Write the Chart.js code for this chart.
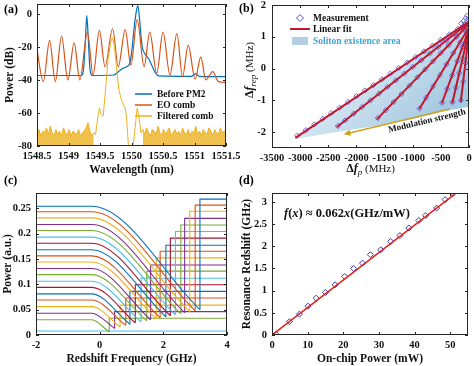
<!DOCTYPE html>
<html>
<head>
<meta charset="utf-8">
<script src="https://cdn.jsdelivr.net/npm/chart.js@4.4.1/dist/chart.umd.min.js"></script>
<style>
  body { margin: 0; background: #fff; }
  #fig { position: relative; width: 474px; height: 366px; overflow: hidden; }
  canvas { position: absolute; }
  .tag { position: absolute; font: bold 12px "Liberation Serif", serif; color: #000; }
</style>
</head>
<body>
<div id="fig">
  <canvas id="ca" width="245" height="183" style="left:0;top:0"></canvas>
  <canvas id="cb" width="237" height="183" style="left:237px;top:0"></canvas>
  <canvas id="cc" width="237" height="183" style="left:0;top:183px"></canvas>
  <canvas id="cd" width="237" height="183" style="left:237px;top:183px"></canvas>
  <div class="tag" style="left:4px;top:2px">(a)</div>
  <div class="tag" style="left:239px;top:1px">(b)</div>
  <div class="tag" style="left:4px;top:173px">(c)</div>
  <div class="tag" style="left:239px;top:173px">(d)</div>
</div>
<script>
// ---- (a) spectra ----
var aNames = ['Before PM2', 'EO comb', 'Filtered comb'];
var aTickX = [1548.5, 1549, 1549.5, 1550, 1550.5, 1551, 1551.5];
var aTickY = [-80, -60, -40, -20, 0];

var blueX = [1548.50, 1549.20, 1549.24, 1549.27, 1549.29, 1549.31, 1549.34, 1549.38, 1549.72, 1549.79, 1549.86, 1549.92, 1549.97, 1550.00, 1550.04, 1550.07, 1550.10, 1550.13, 1550.15, 1550.17, 1550.21, 1550.27, 1550.32, 1550.37, 1550.43, 1550.95, 1551.02, 1551.08, 1551.50];
var blueY = [-37.3, -37.3, -33, -15, -1, -12, -33, -37.3, -37, -35, -33, -32, -30, -24, -9, 0, 5, -4, -13, -20, -24, -27, -31, -35, -37.5, -37.8, -36.3, -37.8, -38];

var eoX = [1548.50, 1548.60, 1548.70, 1548.79, 1548.89, 1548.99, 1549.09, 1549.18, 1549.30, 1549.39, 1549.49, 1549.58, 1549.70, 1549.79, 1549.90, 1549.99, 1550.09, 1550.20, 1550.29, 1550.40, 1550.50, 1550.61, 1550.72, 1550.81, 1550.90, 1551.01, 1551.10, 1551.18, 1551.29, 1551.38, 1551.50];
var eoY = [-22, -41, -16, -41, -13.5, -40, -17.5, -40, -11, -37, -10, -32, -9, -32, -9.5, -31, -3.5, -32, -11, -36, -11, -37, -12, -38, -19, -39.5, -26, -40, -35, -41, -41.5];

var filtLX = [1548.50, 1548.53, 1548.56, 1548.59, 1548.62, 1548.65, 1548.68, 1548.71, 1548.74, 1548.77, 1548.80, 1548.83, 1548.86, 1548.89, 1548.92, 1548.95, 1548.98, 1549.01, 1549.04, 1549.07, 1549.10, 1549.13, 1549.16, 1549.19, 1549.22, 1549.25, 1549.28, 1549.31, 1549.34, 1549.37, 1549.40];
var filtLY = [-73, -70, -74, -71, -72, -69, -73, -68, -72, -74, -70, -73, -71, -74, -69, -72, -73, -70, -74, -71, -72, -73, -70, -74, -72, -71, -69, -66, -71, -74, -72];
var filtPX = [1549.43, 1549.46, 1549.49, 1549.52, 1549.55, 1549.59, 1549.63, 1549.67, 1549.70, 1549.73, 1549.76, 1549.80, 1549.84, 1549.87, 1549.90, 1549.92, 1549.95, 1549.98, 1550.03, 1550.06, 1550.09, 1550.12, 1550.15];
var filtPY = [-73, -64, -57, -61, -62, -45, -27, -17, -14.5, -20, -32, -46, -52, -55, -57, -62, -79, -80, -79, -68, -57, -63, -72];
var filtRX = [1550.18, 1550.21, 1550.24, 1550.27, 1550.30, 1550.33, 1550.36, 1550.39, 1550.42, 1550.45, 1550.48, 1550.51, 1550.54, 1550.57, 1550.60, 1550.63, 1550.66, 1550.69, 1550.72, 1550.75, 1550.78, 1550.81, 1550.84, 1550.87, 1550.90, 1550.93, 1550.96, 1550.99, 1551.02, 1551.05, 1551.08, 1551.11, 1551.14, 1551.17, 1551.20, 1551.23, 1551.26, 1551.29, 1551.32, 1551.35, 1551.38, 1551.41, 1551.44, 1551.47, 1551.50];
var filtRY = [-70, -73, -69, -72, -74, -70, -71, -73, -68, -72, -74, -70, -73, -71, -69, -74, -72, -70, -73, -71, -74, -69, -72, -73, -70, -74, -71, -72, -68, -73, -71, -74, -70, -72, -73, -69, -71, -74, -70, -72, -73, -69, -72, -71, -74];

// ---- (b) repetition rate tuning ----
var bTickX = [-3500, -3000, -2500, -2000, -1500, -1000, -500, 0];
var bTickY = [-2, -1, 0, 1, 2];
var fitStartX = [-3086, -2347, -1638, -887, -485, -300, -148];
var fitStartY = [-2.18, -1.84, -1.60, -1.28, -1.10, -1.10, -1.05];
var fitEndY = [1.48, 1.45, 1.40, 1.30, 1.25, 1.20, 1.15];
var m1X = [-3050, -2900, -2750, -2600, -2450, -2300, -2150, -2000, -1850, -1700, -1550, -1400, -1250, -1100, -950, -800, -650, -500, -350, -200, -80];
var m1Y = [-2.11, -1.94, -1.76, -1.58, -1.40, -1.23, -1.05, -0.87, -0.69, -0.52, -0.34, -0.16, 0.02, 0.19, 0.37, 0.54, 0.72, 0.90, 1.07, 1.25, 1.40];
var m2X = [-2330, -2200, -2050, -1900, -1750, -1600, -1450, -1300, -1150, -1000, -850, -700, -550, -400, -250, -110];
var m2Y = [-1.81, -1.63, -1.42, -1.21, -1.00, -0.79, -0.58, -0.37, -0.16, 0.05, 0.26, 0.47, 0.68, 0.89, 1.10, 1.30];
var m3X = [-1620, -1480, -1340, -1200, -1060, -920, -780, -640, -500, -360, -220, -90];
var m3Y = [-1.56, -1.31, -1.05, -0.80, -0.54, -0.28, -0.03, 0.23, 0.49, 0.74, 1.00, 1.24];
var m4X = [-880, -760, -640, -520, -400, -280, -160, -50];
var m4Y = [-1.26, -0.91, -0.56, -0.21, 0.14, 0.49, 0.83, 1.15];
var m5X = [-480, -390, -300, -210, -120, -40];
var m5Y = [-1.08, -0.64, -0.21, 0.23, 0.67, 1.06];
var m6X = [-295, -235, -175, -115, -55];
var m6Y = [-1.06, -0.60, -0.14, 0.32, 0.78];
var m7X = [-145, -105, -65, -25];
var m7Y = [-1.00, -0.41, 0.18, 0.78];
var mTopX = [-140, -95, -60, -35, -15];
var mTopY = [1.42, 1.50, 1.58, 1.66, 1.55];
var areaX = [-3100, 0, 0, -150, -490, -890, -1640, -2350, -3100];
var areaY = [-2.22, 1.52, -1.20, -1.25, -1.35, -1.55, -1.80, -2.00, -2.22];
var arrowFrom = [-340, -1.27];
var arrowTo = [-2230, -2.07];

// ---- (c) transmission sweeps ----
var cTickX = [-2, 0, 2, 4];
var cTickY = [0, 0.05, 0.1, 0.15, 0.2, 0.25];
var cKnee = -0.25;
var cLevel = [0.254, 0.243, 0.231, 0.218, 0.206, 0.193, 0.181, 0.168, 0.156, 0.144, 0.131, 0.119, 0.106, 0.094, 0.081, 0.069, 0.056, 0.043, 0.030, 0.008];
var cJump = [3.15, 3.00, 2.83, 2.67, 2.55, 2.38, 2.22, 2.08, 1.90, 1.78, 1.60, 1.48, 1.30, 1.12, 0.95, 0.82, 0.64, 0.47, 0.30, null];
var cLow = [0.050, 0.048, 0.046, 0.044, 0.042, 0.040, 0.038, 0.036, 0.034, 0.032, 0.030, 0.028, 0.026, 0.024, 0.021, 0.019, 0.016, 0.013, 0.006, null];
var cHigh = [0.268, 0.256, 0.244, 0.230, 0.217, 0.204, 0.191, 0.177, 0.165, 0.152, 0.138, 0.126, 0.112, 0.099, 0.086, 0.073, 0.059, 0.046, 0.033, null];

// ---- (d) redshift vs power ----
var dTickX = [0, 10, 20, 30, 40, 50];
var dTickY = [0, 0.5, 1, 1.5, 2, 2.5, 3];
var dPower = [1.1, 4.9, 7.7, 10.1, 12.4, 15.0, 17.7, 20.4, 22.9, 25.4, 27.6, 30.5, 33.3, 35.9, 38.4, 41.2, 43.1, 46.2, 48.6, 50.8];
var dShift = [0.02, 0.30, 0.47, 0.65, 0.83, 0.96, 1.13, 1.32, 1.50, 1.62, 1.81, 1.92, 2.11, 2.24, 2.41, 2.58, 2.69, 2.86, 3.05, 3.19];
var dFitX = [0.5, 51.2];
var dFitY = [0.03, 3.17];

var palette = ['#0072BD', '#D95319', '#EDB120', '#7E2F8E', '#77AC30', '#4DBEEE', '#A2142F'];
var SERIF = '"Liberation Serif", "Times New Roman", serif';

Chart.defaults.font.family = SERIF;
Chart.defaults.font.size = 10.5;
Chart.defaults.font.weight = 'bold';
Chart.defaults.color = '#111';

function pts(xs, ys) {
  return xs.map(function (x, i) { return { x: x, y: ys[i] }; });
}

function axis(min, max, ticks, size, pad, title, titlePad) {
  return {
    type: 'linear', min: min, max: max,
    grid: { display: false, drawTicks: false },
    border: { display: false },
    ticks: { padding: pad, autoSkip: false, maxRotation: 0, callback: function (v) { return String(v); } },
    afterBuildTicks: function (s) { s.ticks = ticks.map(function (v) { return { value: v }; }); },
    afterFit: function (s) {
      if (s.isHorizontal()) s.height = size; else s.width = size;
      s.paddingLeft = s.paddingRight = s.paddingTop = s.paddingBottom = 0;
    },
    title: { display: !!title, text: title || '', font: { size: 11.5, weight: 'bold' }, padding: titlePad || 0 }
  };
}

// box round the plot with inward ticks, like the matlab axes
var frame = {
  id: 'frame',
  afterDatasetsDraw: function (chart) {
    var c = chart.ctx, a = chart.chartArea, sx = chart.scales.x, sy = chart.scales.y;
    c.save();
    c.strokeStyle = '#262626';
    c.lineWidth = 1;
    c.strokeRect(Math.round(a.left) + 0.5, Math.round(a.top) + 0.5, Math.round(a.width) - 1, Math.round(a.height) - 1);
    c.beginPath();
    sx.ticks.forEach(function (t) {
      var p = Math.round(sx.getPixelForValue(t.value)) + 0.5;
      c.moveTo(p, a.bottom); c.lineTo(p, a.bottom - 3);
      c.moveTo(p, a.top); c.lineTo(p, a.top + 3);
    });
    sy.ticks.forEach(function (t) {
      var p = Math.round(sy.getPixelForValue(t.value)) + 0.5;
      c.moveTo(a.left, p); c.lineTo(a.left + 3, p);
      c.moveTo(a.right, p); c.lineTo(a.right - 3, p);
    });
    c.stroke();
    c.restore();
  }
};

function richText(c, parts, x, y, rot, left) {
  c.save();
  c.translate(x, y);
  c.rotate(rot || 0);
  var w = 0;
  parts.forEach(function (p) { c.font = p[1]; w += c.measureText(p[0]).width; });
  var cx = left ? 0 : -w / 2;
  c.textBaseline = 'alphabetic';
  parts.forEach(function (p) {
    c.font = p[1];
    c.fillStyle = p[3] || '#111';
    c.fillText(p[0], cx, p[2] || 0);
    cx += c.measureText(p[0]).width;
  });
  c.restore();
}

function makeChart(id, datasets, scales, padding, extra) {
  return new Chart(document.getElementById(id), {
    type: 'scatter',
    data: { datasets: datasets },
    options: {
      responsive: false, animation: false, devicePixelRatio: 1,
      layout: { padding: padding },
      scales: scales,
      elements: { point: { radius: 0 }, line: { borderWidth: 1.2 } },
      plugins: { legend: { display: false }, tooltip: { enabled: false } }
    },
    plugins: [frame].concat(extra || [])
  });
}

// ---------- panel (a) ----------
var legendA = {
  id: 'legendA',
  afterDraw: function (chart) {
    var c = chart.ctx, a = chart.chartArea;
    var cols = [palette[0], palette[1], palette[2]];
    c.save();
    c.font = 'bold 9.5px ' + SERIF;
    c.textBaseline = 'middle';
    aNames.forEach(function (n, k) {
      var y = a.bottom - 52 + k * 11;
      c.strokeStyle = cols[k]; c.lineWidth = 1.5;
      c.beginPath(); c.moveTo(a.right - 91, y); c.lineTo(a.right - 74, y); c.stroke();
      c.fillStyle = '#111';
      c.fillText(n, a.right - 69, y + 0.5);
    });
    c.restore();
  }
};

var filtAll = pts(filtLX.concat(filtPX, filtRX), filtLY.concat(filtPY, filtRY));
makeChart('ca', [
  { data: filtAll, showLine: true, borderColor: palette[2], borderWidth: 1 },
  { data: pts(filtLX, filtLY), showLine: true, borderWidth: 0, fill: 'start', backgroundColor: 'rgba(237,177,32,0.8)' },
  { data: pts(filtRX, filtRY), showLine: true, borderWidth: 0, fill: 'start', backgroundColor: 'rgba(237,177,32,0.8)' },
  { data: pts(eoX, eoY), showLine: true, borderColor: palette[1], cubicInterpolationMode: 'monotone' },
  { data: pts(blueX, blueY), showLine: true, borderColor: palette[0], cubicInterpolationMode: 'monotone' }
], {
  x: axis(1548.5, 1551.5, aTickX, 37, 4, 'Wavelength (nm)', { top: 0, bottom: 6 }),
  y: axis(-80, 6, aTickY, 37, 5, 'Power (dB)', { top: 3, bottom: 0 })
}, { left: 0, right: 19, top: 4, bottom: 0 }, [legendA]);

// ---------- panel (b) ----------
var decoB = {
  id: 'decoB',
  afterDraw: function (chart) {
    var c = chart.ctx, a = chart.chartArea, sx = chart.scales.x, sy = chart.scales.y;
    var b12 = 'bold 12px ' + SERIF, bi12 = 'bold italic 12px ' + SERIF, i9 = 'italic 9px ' + SERIF, r11 = '11px ' + SERIF;
    richText(c, [['Δ', b12], ['f', bi12], ['p', i9, 3], [' (MHz)', r11]], (a.left + a.right) / 2, a.bottom + 24, 0);
    richText(c, [['Δ', b12], ['f', bi12], ['rep', i9, 3], [' (MHz)', r11]], 16, 70, -Math.PI / 2);

    // arrow
    var x0 = sx.getPixelForValue(arrowFrom[0]), y0 = sy.getPixelForValue(arrowFrom[1]);
    var x1 = sx.getPixelForValue(arrowTo[0]), y1 = sy.getPixelForValue(arrowTo[1]);
    var ang = Math.atan2(y1 - y0, x1 - x0);
    c.save();
    c.strokeStyle = '#CFA21E'; c.fillStyle = '#CFA21E'; c.lineWidth = 1.5;
    c.beginPath(); c.moveTo(x0, y0); c.lineTo(x1 - 5 * Math.cos(ang), y1 - 5 * Math.sin(ang)); c.stroke();
    c.beginPath();
    c.moveTo(x1, y1);
    c.lineTo(x1 - 7 * Math.cos(ang) + 3 * Math.sin(ang), y1 - 7 * Math.sin(ang) - 3 * Math.cos(ang));
    c.lineTo(x1 - 7 * Math.cos(ang) - 3 * Math.sin(ang), y1 - 7 * Math.sin(ang) + 3 * Math.cos(ang));
    c.closePath(); c.fill();
    c.restore();
    var tx = sx.getPixelForValue(-738), ty = sy.getPixelForValue(-1.63);
    richText(c, [['Modulation strength', 'bold 9px ' + SERIF]], tx, ty + 3, Math.atan2(y0 - y1, x0 - x1));

    // legend
    var L = a.left, T = a.top;
    c.save();
    c.strokeStyle = '#5050C8'; c.lineWidth = 1;
    c.beginPath(); c.moveTo(L + 28, T + 9.5); c.lineTo(L + 31.5, T + 13); c.lineTo(L + 28, T + 16.5); c.lineTo(L + 24.5, T + 13); c.closePath(); c.stroke();
    c.strokeStyle = '#C0172E'; c.lineWidth = 2;
    c.beginPath(); c.moveTo(L + 18, T + 24); c.lineTo(L + 38, T + 24); c.stroke();
    c.fillStyle = '#B3CFE2';
    c.fillRect(L + 20, T + 32, 16, 8);
    c.restore();
    richText(c, [['Measurement', 'bold 9.5px ' + SERIF]], L + 41, T + 16, 0, true);
    richText(c, [['Linear fit', 'bold 9.5px ' + SERIF]], L + 41, T + 27, 0, true);
    richText(c, [['Soliton existence area', 'bold 9.5px ' + SERIF, 0, '#3EA6D6']], L + 41, T + 39, 0, true);
  }
};

var bSets = [];
var red = '#C0172E';
fitStartX.forEach(function (x, i) {
  bSets.push({ data: [{ x: x, y: fitStartY[i] }, { x: 0, y: fitEndY[i] }], showLine: true, borderColor: red, borderWidth: 2, order: 1 });
});
[[m1X, m1Y], [m2X, m2Y], [m3X, m3Y], [m4X, m4Y], [m5X, m5Y], [m6X, m6Y], [m7X, m7Y], [mTopX, mTopY]].forEach(function (m) {
  bSets.push({ data: pts(m[0], m[1]), pointStyle: 'rectRot', pointRadius: 2.6, pointBorderWidth: 0.9,
    pointBorderColor: '#5A5AD2', pointBackgroundColor: 'rgba(0,0,0,0)', order: 2 });
});
bSets.push({
  data: pts(areaX, areaY), showLine: true, borderWidth: 0, fill: 'shape', order: 3,
  backgroundColor: function (ctx) {
    var ch = ctx.chart, a = ch.chartArea;
    if (!a) return 'rgba(175,205,225,0.8)';
    var sx = ch.scales.x, sy = ch.scales.y;
    var g = ch.ctx.createLinearGradient(sx.getPixelForValue(-700), sy.getPixelForValue(-1.6), sx.getPixelForValue(-1700), sy.getPixelForValue(0.2));
    g.addColorStop(0, 'rgba(150,192,220,0.85)');
    g.addColorStop(1, 'rgba(200,223,238,0.8)');
    return g;
  }
});

makeChart('cb', bSets, {
  x: axis(-3500, 0, bTickX, 35, 4),
  y: axis(-2.5, 2, bTickY, 35, 6)
}, { left: 0, right: 4, top: 5, bottom: 0 }, [decoB]);

// ---------- panel (c) ----------
var cSets = [];
cLevel.forEach(function (L, i) {
  var col = palette[i % 7];
  if (cJump[i] === null) {
    cSets.push({ data: [{ x: -2, y: L }, { x: 4, y: L }], showLine: true, borderColor: col, borderWidth: 1.1 });
    return;
  }
  cSets.push({ data: [{ x: -2, y: L }, { x: cKnee, y: L }, { x: cJump[i], y: cLow[i] }], showLine: true,
    borderColor: col, borderWidth: 1.1, cubicInterpolationMode: 'monotone' });
  cSets.push({ data: [{ x: cJump[i], y: cLow[i] }, { x: cJump[i], y: cHigh[i] }, { x: 4, y: cHigh[i] }], showLine: true,
    borderColor: col, borderWidth: 1.1 });
});
makeChart('cc', cSets, {
  x: axis(-2, 4, cTickX, 31, 4, 'Redshift Frequency (GHz)', { top: 0, bottom: 0 }),
  y: axis(0, 0.28, cTickY, 36, 5, 'Power (a.u.)', { top: 1, bottom: 0 })
}, { left: 0, right: 10, top: 10, bottom: 0 });

// ---------- panel (d) ----------
var decoD = {
  id: 'decoD',
  afterDraw: function (chart) {
    var c = chart.ctx, a = chart.chartArea;
    var s = 12.5;
    var b = 'bold ' + s + 'px ' + SERIF, bi = 'bold italic ' + s + 'px ' + SERIF;
    richText(c, [['f', bi], ['(', b], ['x', bi], [')', b], [' ≈ ', b], ['0.062', b], ['x', bi], ['(GHz/mW)', b]], a.left + 12, a.top + 24, 0, true);
  }
};
makeChart('cd', [
  { data: pts(dFitX, dFitY), showLine: true, borderColor: '#E3201B', borderWidth: 1.5 },
  { data: pts(dPower, dShift), pointStyle: 'rectRot', pointRadius: 3, pointBorderWidth: 1,
    pointBorderColor: '#3A3AB8', pointBackgroundColor: 'rgba(0,0,0,0)' }
], {
  x: axis(0, 55, dTickX, 31, 4, 'On-chip Power (mW)', { top: 0, bottom: 0 }),
  y: axis(0, 3.2, dTickY, 35, 5, 'Resonance Redshift (GHz)', { top: 3, bottom: 0 })
}, { left: 0, right: 6, top: 10, bottom: 0 }, [decoD]);
</script>
</body>
</html>
